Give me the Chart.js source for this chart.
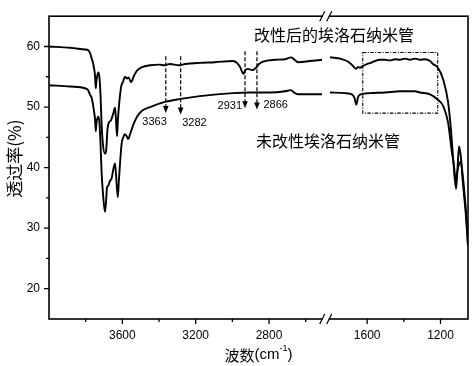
<!DOCTYPE html>
<html>
<head>
<meta charset="utf-8">
<script src="https://cdn.jsdelivr.net/npm/chart.js@4.4.1/dist/chart.umd.min.js"></script>
<style>
  html, body { margin: 0; padding: 0; background: #fff; }
  canvas { display: block; }
</style>
</head>
<body>
<canvas id="ftir" width="474" height="366"></canvas>
<script>
// wavenumbers (cm-1) and transmittance (%)
const wnModified = [4000, 3885, 3804, 3787, 3776, 3768, 3760, 3755, 3749, 3745, 3741, 3731, 3725, 3719, 3713,
  3706, 3695, 3689, 3681, 3673, 3662, 3651, 3640, 3635, 3629, 3624, 3607, 3596, 3586, 3575, 3566, 3553, 3536,
  3520, 3493, 3449, 3395, 3373, 3340, 3291, 3258, 3177, 3095, 2997, 2975, 2958, 2947, 2939, 2931, 2915, 2893,
  2871, 2855, 2833, 2767, 2713, 2680, 2664, 2642, 2577, 2511,
  1803, 1770, 1737, 1710, 1688, 1672, 1661, 1650, 1639, 1623, 1601, 1579, 1557, 1530, 1503, 1476, 1448, 1421,
  1394, 1367, 1339, 1312, 1285, 1257, 1241, 1214, 1186, 1159, 1143, 1129, 1115, 1107, 1099, 1091, 1083, 1072,
  1061, 1050];
const tModified = [60.0, 59.8, 59.5, 59.4, 58.9, 58.1, 57.3, 56.5, 55.2, 53.1, 54.4, 55.7, 54.9, 52.0, 47.1,
  43.9, 42.3, 42.6, 46.3, 47.5, 47.8, 48.8, 49.9, 48.0, 45.2, 48.0, 53.3, 54.2, 55.0, 54.7, 54.9, 54.1, 55.2,
  56.0, 56.6, 56.9, 57.0, 56.9, 57.1, 56.9, 57.1, 57.3, 57.4, 57.6, 57.3, 56.6, 55.8, 55.5, 56.0, 56.3, 56.1,
  56.5, 57.1, 57.5, 57.8, 57.9, 58.2, 57.9, 57.4, 57.6, 57.8,
  58.2, 58.1, 57.9, 57.6, 57.1, 56.6, 56.3, 56.6, 56.5, 56.8, 57.1, 57.3, 57.6, 57.8, 57.8, 57.7, 57.9, 57.8,
  58.0, 57.8, 58.0, 57.8, 57.9, 57.6, 57.1, 56.5, 54.6, 50.9, 46.3, 40.7, 36.5, 39.9, 43.5, 42.3, 39.9, 36.7,
  32.7, 27.1];

const wnPristine = [4000, 3885, 3804, 3787, 3776, 3767, 3760, 3755, 3749, 3745, 3741, 3731, 3725, 3719, 3713,
  3706, 3695, 3689, 3684, 3678, 3667, 3658, 3648, 3640, 3635, 3625, 3618, 3604, 3594, 3586, 3575, 3568, 3558,
  3540, 3520, 3493, 3449, 3373, 3291, 3177, 2997, 2904, 2795, 2713, 2680, 2664, 2642, 2511,
  1803, 1721, 1683, 1669, 1659, 1650, 1634, 1585, 1503, 1421, 1339, 1312, 1257, 1214, 1186, 1159, 1139, 1126,
  1118, 1105, 1089, 1078, 1061, 1050];
const tPristine = [53.6, 53.4, 53.1, 52.8, 52.0, 51.5, 50.4, 49.4, 48.0, 46.0, 47.4, 48.4, 47.5, 43.9, 39.1,
  35.9, 32.7, 34.3, 36.7, 37.0, 37.8, 38.3, 39.9, 40.7, 39.1, 35.1, 38.3, 43.9, 45.1, 45.5, 45.1, 44.7, 45.5,
  47.1, 48.4, 49.4, 50.0, 50.8, 51.3, 51.8, 52.3, 52.4, 52.4, 52.6, 52.8, 52.4, 52.1, 52.1,
  52.4, 52.3, 52.1, 51.5, 50.4, 51.6, 52.1, 52.3, 52.4, 52.6, 52.6, 52.4, 52.1, 51.2, 50.2, 47.5, 42.8, 40.2,
  37.8, 39.9, 41.0, 37.5, 31.9, 27.1];

const xMajor = [3600, 3200, 2800, 1600, 1200];
const xMinor = [3800, 3400, 3000, 2600, 1400];
const yMajor = [20, 30, 40, 50, 60];
const yMinor = [25, 35, 45, 55];

const seriesNames = ['改性后的埃洛石纳米管', '未改性埃洛石纳米管'];
const peakLabels = ['3363', '3282', '2931', '2866'];
const peakWn = [3363, 3282, 2931, 2866];

// broken axis: 4000-2480 then 1815-1050
const BREAK_HI = 2480, BREAK_LO = 1815;
function toU(w) {
  return w >= BREAK_HI ? 4000 - w : (4000 - BREAK_HI) + (BREAK_LO - w);
}

function buildPoints(wn, t) {
  const pts = [];
  wn.forEach((w, i) => {
    if (i > 0 && wn[i - 1] >= BREAK_HI && w <= BREAK_LO) {
      pts.push({x: 4000 - BREAK_HI, y: null});
    }
    pts.push({x: toU(w), y: t[i]});
  });
  return pts;
}

const arrows = [
  {top: 58.4, tip: 49.0, align: 'right', dx: 1, dy: 8.5},
  {top: 58.4, tip: 48.75, align: 'left', dx: 1.5, dy: 8},
  {top: 59.2, tip: 49.8, align: 'right', dx: -3, dy: -2},
  {top: 59.2, tip: 49.6, align: 'left', dx: 6.5, dy: -4}
];
const seriesText = [{w: 2882, v: 61.85}, {w: 2871, v: 44.4}];
const box = {w1: 1624, w2: 1215, v1: 59.0, v2: 49.0};

const cjk = '"Noto Sans CJK SC", sans-serif';

const decor = {
  id: 'decor',
  afterDatasetsDraw(chart) {
    const {ctx, chartArea: a, scales: {x, y}} = chart;
    ctx.save();
    ctx.strokeStyle = '#000';
    ctx.fillStyle = '#000';

    // frame
    ctx.lineWidth = 1.6;
    ctx.strokeRect(a.left, a.top, a.right - a.left, a.bottom - a.top);

    // ticks
    ctx.lineWidth = 1.3;
    ctx.beginPath();
    xMajor.forEach(w => { const p = x.getPixelForValue(toU(w)); ctx.moveTo(p, a.bottom); ctx.lineTo(p, a.bottom + 5); });
    xMinor.forEach(w => { const p = x.getPixelForValue(toU(w)); ctx.moveTo(p, a.bottom); ctx.lineTo(p, a.bottom + 3); });
    yMajor.forEach(v => { const p = y.getPixelForValue(v); ctx.moveTo(a.left - 5, p); ctx.lineTo(a.left, p); });
    yMinor.forEach(v => { const p = y.getPixelForValue(v); ctx.moveTo(a.left - 3, p); ctx.lineTo(a.left, p); });
    ctx.stroke();

    // axis break marks
    const xb = x.getPixelForValue(4000 - BREAK_HI) - 2;
    [a.top, a.bottom].forEach(yy => {
      ctx.fillStyle = '#fff';
      ctx.fillRect(xb - 3, yy - 2, 6, 4);
      ctx.fillStyle = '#000';
      ctx.lineWidth = 1.2;
      ctx.beginPath();
      ctx.moveTo(xb - 6, yy + 5); ctx.lineTo(xb - 1, yy - 5);
      ctx.moveTo(xb + 1, yy + 5); ctx.lineTo(xb + 6, yy - 5);
      ctx.stroke();
    });

    // dashed arrows with peak labels
    ctx.font = '11px "Liberation Sans", Arial, sans-serif';
    ctx.textBaseline = 'middle';
    arrows.forEach((ar, i) => {
      const px = x.getPixelForValue(toU(peakWn[i]));
      const y0 = y.getPixelForValue(ar.top), y1 = y.getPixelForValue(ar.tip);
      ctx.lineWidth = 1.2;
      ctx.setLineDash([4, 2]);
      ctx.beginPath(); ctx.moveTo(px, y0); ctx.lineTo(px, y1 - 6); ctx.stroke();
      ctx.setLineDash([]);
      ctx.beginPath();
      ctx.moveTo(px - 2.8, y1 - 7); ctx.lineTo(px + 2.8, y1 - 7); ctx.lineTo(px, y1);
      ctx.closePath(); ctx.fill();
      ctx.textAlign = ar.align;
      ctx.fillText(peakLabels[i], px + ar.dx, y1 + ar.dy);
    });

    // dash-dot box
    ctx.lineWidth = 1.1;
    ctx.setLineDash([3.5, 1.5, 1, 1.5]);
    const bx1 = x.getPixelForValue(toU(box.w1)), bx2 = x.getPixelForValue(toU(box.w2));
    const by1 = y.getPixelForValue(box.v1), by2 = y.getPixelForValue(box.v2);
    ctx.strokeRect(bx1, by1, bx2 - bx1, by2 - by1);
    ctx.setLineDash([]);

    // series names
    ctx.font = '16px ' + cjk;
    ctx.textAlign = 'left';
    seriesText.forEach((s, i) => {
      ctx.fillText(seriesNames[i], x.getPixelForValue(toU(s.w)), y.getPixelForValue(s.v));
    });

    // y title
    ctx.save();
    ctx.translate(14.5, (a.top + a.bottom) / 2 - 9);
    ctx.rotate(-Math.PI / 2);
    ctx.textAlign = 'center';
    ctx.font = '17px ' + cjk;
    ctx.fillText('透过率(%)', 0, 0);
    ctx.restore();

    // x title: 波数(cm-1) with superscript
    const parts = [
      {t: '波数', f: '15px ' + cjk, dy: 0},
      {t: '(cm', f: '15px "Liberation Sans", Arial, sans-serif', dy: 0},
      {t: '-1', f: '9px "Liberation Sans", Arial, sans-serif', dy: -6},
      {t: ')', f: '15px "Liberation Sans", Arial, sans-serif', dy: 0}
    ];
    let total = 0;
    parts.forEach(p => { ctx.font = p.f; p.w = ctx.measureText(p.t).width; total += p.w; });
    let cx = (a.left + a.right) / 2 - total / 2;
    ctx.textAlign = 'left';
    parts.forEach(p => { ctx.font = p.f; ctx.fillText(p.t, cx, 355 + p.dy); cx += p.w; });

    ctx.restore();
  }
};

new Chart(document.getElementById('ftir'), {
  type: 'line',
  data: {
    datasets: [
      {label: seriesNames[0], data: buildPoints(wnModified, tModified)},
      {label: seriesNames[1], data: buildPoints(wnPristine, tPristine)}
    ].map(d => Object.assign(d, {
      borderColor: '#000', borderWidth: 1.9, pointRadius: 0, fill: false,
      spanGaps: false, cubicInterpolationMode: 'monotone'
    }))
  },
  options: {
    responsive: false,
    animation: false,
    layout: {padding: {top: 9, right: 6, left: 0, bottom: 0}},
    plugins: {legend: {display: false}, tooltip: {enabled: false}},
    scales: {
      x: {
        type: 'linear', min: 0, max: toU(1050),
        afterFit(s) { s.height = 47; },
        afterBuildTicks(s) { s.ticks = xMajor.map(w => ({value: toU(w)})); },
        grid: {display: false, drawTicks: false},
        border: {display: false},
        ticks: {
          padding: 9, color: '#000', autoSkip: false, maxRotation: 0,
          font: {family: '"Liberation Sans", Arial, sans-serif', size: 12},
          callback: (v, i) => String(xMajor[i])
        }
      },
      y: {
        min: 15, max: 65,
        afterFit(s) { s.width = 49; },
        afterBuildTicks(s) { s.ticks = yMajor.map(v => ({value: v})); },
        grid: {display: false, drawTicks: false},
        border: {display: false},
        ticks: {
          padding: 9, color: '#000',
          font: {family: '"Liberation Sans", Arial, sans-serif', size: 12}
        }
      }
    }
  },
  plugins: [decor]
});
</script>
</body>
</html>
